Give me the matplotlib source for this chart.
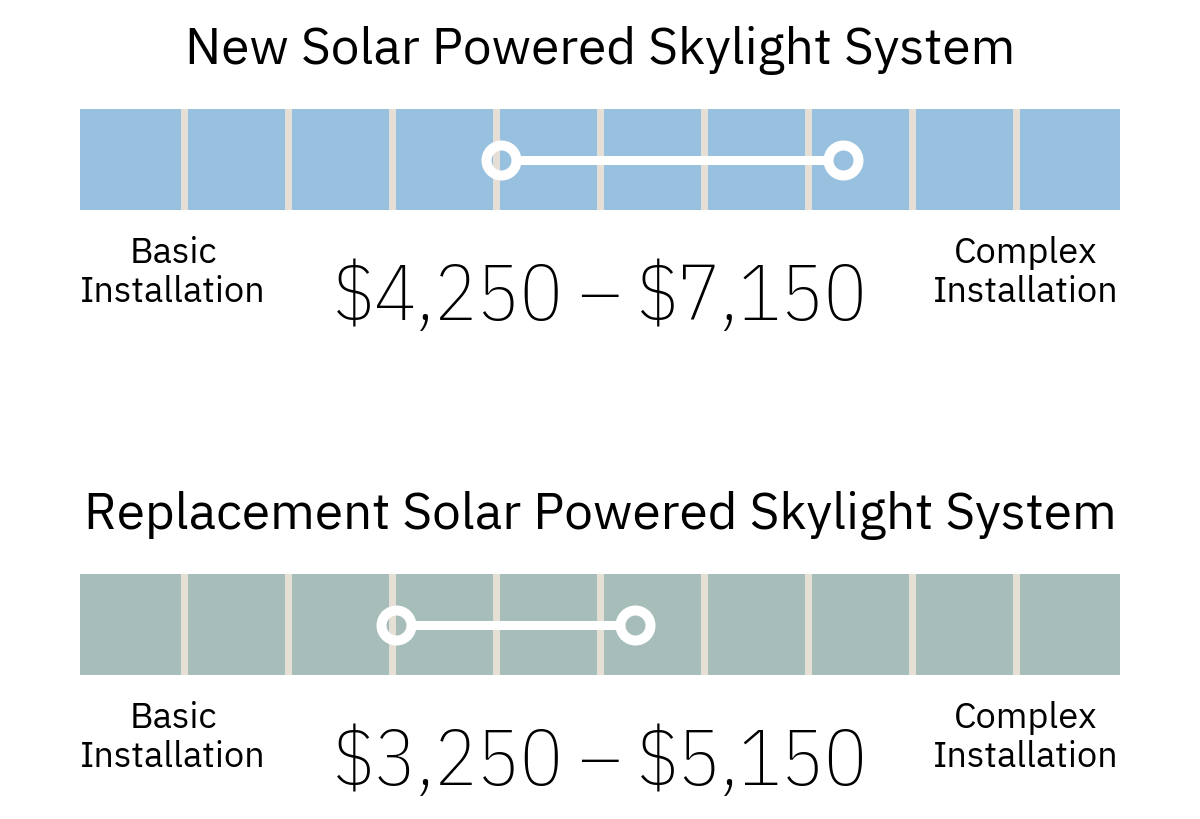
import matplotlib
matplotlib.use("Agg")
import matplotlib.pyplot as plt

FONT = ["IBM Plex Sans", "DejaVu Sans"]
FONT_PRICE = ["IBM Plex Sans Condensed", "DejaVu Sans"]

titles = ["New Solar Powered Skylight System", "Replacement Solar Powered Skylight System"]
price_labels = ["$4,250 \u2013 $7,150", "$3,250 \u2013 $5,150"]
low_pos = [4.05, 3.04]
high_pos = [7.34, 5.34]
n_segments = 10
dividers = list(range(1, n_segments))
bar_colors = ["#98C0DF", "#A6BDBA"]
divider_color = "#E6DFD6"
left_label = "Basic\nInstallation"
right_label = "Complex\nInstallation"

W, H = 1200, 820
fig = plt.figure(figsize=(W / 100, H / 100), dpi=100)

def fy(py):
    return 1 - py / H

offset = 465
for i in range(2):
    dy = i * offset
    bar_top, bar_bot = 110 + dy, 211 + dy
    ax = fig.add_axes([80 / W, fy(bar_bot), 1040 / W, (bar_bot - bar_top) / H])
    ax.set_xlim(0, n_segments)
    ax.set_ylim(0, 1)
    ax.axis("off")
    ax.barh(0.5, n_segments, left=0, height=1, color=bar_colors[i], linewidth=0)
    for d in dividers:
        ax.axvline(d, color=divider_color, linewidth=5)
    px_per_unit = 1040 / n_segments
    shrink = 15 / px_per_unit
    ax.plot([low_pos[i] + shrink, high_pos[i] - shrink], [0.5, 0.5], color="white",
            linewidth=6.5, solid_capstyle="butt", zorder=3)
    ax.plot([low_pos[i], high_pos[i]], [0.5, 0.5], linestyle="none", marker="o",
            markersize=21.6, markeredgewidth=7.2, markerfacecolor="none",
            markeredgecolor="white", zorder=4)

    fig.text(0.5, fy(64 + dy), titles[i], ha="center", va="baseline",
             fontsize=37, family=FONT, color="black", parse_math=False)
    fig.text(600 / W, fy(320 + dy), price_labels[i], ha="center", va="baseline",
             fontsize=57, family=FONT_PRICE, weight="light", color="black", parse_math=False)
    fig.text(173 / W, fy(302 + dy), left_label, ha="center", va="baseline",
             fontsize=26, family=FONT, color="black", linespacing=1.17,
             multialignment="center", parse_math=False)
    fig.text(1026 / W, fy(302 + dy), right_label, ha="center", va="baseline",
             fontsize=26, family=FONT, color="black", linespacing=1.17,
             multialignment="center", parse_math=False)

fig.savefig("out.png", dpi=100, facecolor="white")
